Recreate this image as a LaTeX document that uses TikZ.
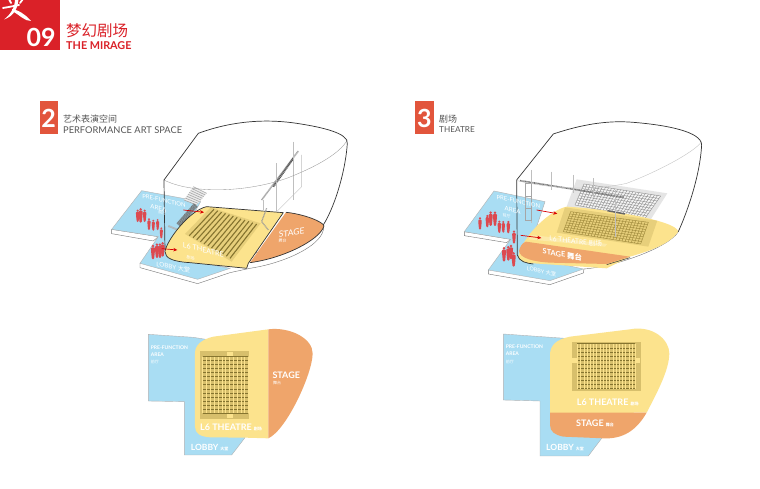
\documentclass[tikz,border=0pt]{standalone}
\usepackage{fontspec}
\setmainfont{Lato}
\newfontfamily\cjk{Noto Sans CJK SC}
\usetikzlibrary{calc,arrows.meta}
\definecolor{hdred}{HTML}{DA2128}
\definecolor{numred}{HTML}{E2553C}
\definecolor{bluezone}{HTML}{A9DDF3}
\definecolor{yellowzone}{HTML}{FCE38D}
\definecolor{orangezone}{HTML}{EFA56B}
\definecolor{seatdark}{HTML}{A08A3C}
\definecolor{seatrow}{HTML}{85742F}
\definecolor{peoplered}{HTML}{DC4A50}
\definecolor{textgray}{HTML}{555555}
\tikzset{
  zoneblue/.style={fill=bluezone,draw=black!30,line width=.4pt},
  zoneyellow/.style={fill=yellowzone,draw=none},
  zoneorange/.style={fill=orangezone,draw=none},
  slab/.style={fill=white,draw=black!55,line width=.4pt},
  shellline/.style={draw=black!80,line width=.7pt,line join=round},
  thinline/.style={draw=black!25,line width=.35pt},
  labelw/.style={text=white,font=\fontsize{6.2}{7}\selectfont,inner sep=0pt,align=center},
  labelws/.style={text=white,font=\cjk\fontsize{4}{5}\selectfont,inner sep=0pt},
  planb/.style={text=white,anchor=west,inner sep=0pt,font=\bfseries\fontsize{9}{10}\selectfont},
  plans/.style={text=white,anchor=west,inner sep=0pt,font=\bfseries\fontsize{5}{6}\selectfont},
  flowarrow/.style={draw=red!85!black,line width=.7pt,-{Stealth[length=4pt,width=3.5pt]}},
  titlecn/.style={text=textgray,font=\cjk\fontsize{9}{10}\selectfont,anchor=west,inner sep=0pt},
  titleen/.style={text=textgray,font=\fontsize{9.3}{10}\selectfont,anchor=west,inner sep=0pt},
  titleent/.style={text=textgray,font=\fontsize{8.2}{10}\selectfont,anchor=west,inner sep=0pt},
  hdstroke/.style={draw=white,line cap=round,line join=round},
}
\newcommand\seatgrid[8]{%
  \foreach \ii in {0,...,#5}{
    \pgfmathsetmacro\tt{\ii/#5}
    \draw[draw=#7,line width=#8] ($(#1)!\tt!(#2)$) -- ($(#4)!\tt!(#3)$);
  }
  \foreach \ii in {0,...,#6}{
    \pgfmathsetmacro\tt{\ii/#6}
    \draw[draw=#7,line width=#8] ($(#1)!\tt!(#4)$) -- ($(#2)!\tt!(#3)$);
  }
}
\newcommand\rowgrid[7]{%
  \foreach \ii in {0,...,#5}{
    \pgfmathsetmacro\tt{\ii/#5}
    \draw[draw=#6,#7] ($(#1)!\tt!(#4)$) -- ($(#2)!\tt!(#3)$);
  }
}
\newcommand\person[3]{%
  \fill[peoplered] (#1,#2) circle (4*#3);
  \fill[peoplered,rounded corners=1pt] ({#1-6*#3},{#2+4*#3}) -- ({#1+6*#3},{#2+4*#3}) -- ({#1+5*#3},{#2+20*#3}) -- ({#1+3*#3},{#2+38*#3}) -- ({#1-3*#3},{#2+38*#3}) -- ({#1-5*#3},{#2+20*#3}) -- cycle;
}
\begin{document}
\begin{tikzpicture}[x=1pt,y=-1pt]
\useasboundingbox (0,0) rectangle (760,489);
\fill[white] (0,0) rectangle (760,489);

% header
\fill[hdred] (0,0) rectangle (60,50);
\draw[hdstroke,line width=1.8pt] (9,-1) -- (11,3);
\draw[hdstroke,line width=1.8pt] (23,-1) -- (20,3);
\draw[hdstroke,line width=1.8pt] (3,8) .. controls (9,7) and (14,6) .. (19,5);
\fill[white] (15,-1) -- (18.5,-1) .. controls (18,8) and (14,16) .. (4,19.5) .. controls (10,15) and (15,8) .. (15,-1) -- cycle;
\fill[white] (12,9) .. controls (18,10) and (25,14) .. (31,21) .. controls (24,21) and (20,15) .. (12,11) -- cycle;
\node[inner sep=0pt,text=white,font=\bfseries\fontsize{25}{25}\selectfont] (num09) at (41,37.5) {09};
\node[inner sep=0pt,text=hdred,anchor=west,font=\cjk\fontsize{15.5}{16}\selectfont] (hdcn) at (66,31) {梦幻剧场};
\node[inner sep=0pt,text=hdred,anchor=west,font=\bfseries\fontsize{10.8}{11}\selectfont] (hden) at (66,45.5) {THE MIRAGE};

% section titles
\fill[numred] (39.5,101) rectangle (58,134.5);
\node[inner sep=0pt,text=white,font=\bfseries\fontsize{25}{25}\selectfont] (n2) at (48.7,118.5) {2};
\node[titlecn] (t2cn) at (63,119) {艺术表演空间};
\node[titleen] (t2en) at (63,130) {PERFORMANCE ART SPACE};
\fill[numred] (415,101) rectangle (433.7,134.5);
\node[inner sep=0pt,text=white,font=\bfseries\fontsize{25}{25}\selectfont] (n3) at (424.3,118.5) {3};
\node[titlecn] (t3cn) at (439,119) {剧场};
\node[titleent] (t3en) at (439,130) {THEATRE};

% ---------- left isometric
\begin{scope}[shift={(30,90)},scale=.3333]
  \path[slab] (245,418) -- (245,431) -- (370,453) -- (385,440) -- cycle;
  \path[slab] (330,520) -- (330,533) -- (503,581) -- (600,548) -- (660,535) .. controls (760,520) and (870,470) .. (880,420) -- (880,405) -- (650,500) -- cycle;
  \path[zoneblue] (335,302) -- (512,335) -- (420,500) -- (600,535) -- (503,568) -- (330,520) -- (385,440) -- (245,418) -- cycle;
  % back seats
  \coordinate (ua) at (490,290); \coordinate (ub) at (530,310);
  \coordinate (uc) at (500,345); \coordinate (ud) at (462,330);
  \fill[black!8] (ua) -- (ub) -- (uc) -- (ud) -- cycle;
  \rowgrid{ua}{ub}{uc}{ud}{7}{black!35}{line width=.6pt}
  \draw[black!55,line width=5pt,dash pattern=on .6pt off .5pt] (497,345) -- (445,405);
  \draw[black!30,line width=2pt,dash pattern=on .6pt off .5pt] (415,408) -- (440,418);
  % yellow
  \path[zoneyellow] (405,485) .. controls (410,450) and (480,360) .. (530,350) -- (760,368) -- (655,520) -- (650,535) -- (480,518) .. controls (430,515) and (405,505) .. (405,485) -- cycle;
  \path[zoneorange] (768,367) .. controls (820,372) and (880,395) .. (882,408) .. controls (870,450) and (760,505) .. (660,518) -- cycle;
  % seats
  \coordinate (sa) at (465,432); \coordinate (sb) at (542,352);
  \coordinate (sc) at (692,400); \coordinate (sd) at (605,515);
  \fill[seatdark,opacity=.22] (sa) -- (sb) -- (sc) -- (sd) -- cycle;
  \coordinate (sa2) at (478,437); \coordinate (sb2) at (552,358);
  \coordinate (sc2) at (680,402); \coordinate (sd2) at (600,505);
  \rowgrid{sa2}{sb2}{sc2}{sd2}{11}{seatrow}{line width=1.15pt,dash pattern=on .55pt off .3pt}
  % outlines
  \draw[shellline] (405,485) .. controls (410,450) and (480,360) .. (530,350) -- (760,368);
  \draw[shellline] (405,485) .. controls (405,505) and (430,515) .. (480,518) -- (650,535) -- (655,520);
  \draw[shellline] (768,367) .. controls (820,372) and (880,395) .. (882,408) .. controls (870,450) and (760,505) .. (660,518);
  \draw[shellline] (760,368) -- (655,520);
  % rigging
  \coordinate (ra) at (695,330); \coordinate (rb) at (805,183);
  \draw[black!35,line width=1.6pt,dash pattern=on .8pt off .5pt] (ra) -- (rb);
  \coordinate (rc) at (730,290); \coordinate (rd) at (790,205);
  \draw[black!65,line width=2pt,dash pattern=on 1pt off .6pt] (rc) -- (rd);
  \draw[thinline] (700,330) -- (700,360); \draw[thinline] (740,220) -- (740,365);
  \draw[thinline] (790,155) -- (790,330); \draw[thinline] (815,195) -- (815,290) -- (740,365);
  \draw[black!40,line width=1.2pt,dash pattern=on 1pt off .6pt] (710,355) -- (695,395) -- (715,420);
  % shell
  \draw[thinline,draw=black!40] (402,270) .. controls (480,310) and (640,310) .. (770,265) .. controls (860,230) and (930,190) .. (952,150);
  \draw[shellline] (405,480) -- (402,270) -- (505,130) .. controls (600,95) and (700,85) .. (800,100) .. controls (880,112) and (955,130) .. (952,160) .. controls (948,230) and (920,340) .. (880,405);
  % labels
  \node[labelw,yslant=-.22,font=\fontsize{5.9}{7}\selectfont] (l1) at (402,332) {PRE-FUNCTION};
  \node[labelw,yslant=-.22] (l2) at (385,354) {AREA};
  \node[labelws,yslant=-.22] (l3) at (397,370) {前厅};
  \node[labelw,yslant=-.24,font=\fontsize{7.2}{8}\selectfont] (l4) at (520,480) {L6 THEATRE};
  \node[labelws,yslant=-.24] (l5) at (482,505) {剧场};
  \node[labelw,yslant=-.2] (l6) at (430,532) {LOBBY \cjk 大堂};
  \node[labelw,yslant=.17,font=\fontsize{8.5}{9}\selectfont] (l7) at (785,428) {STAGE};
  \node[labelws,yslant=.17] (l8) at (758,452) {舞台};
  % people
  \person{323}{362}{.9}\person{332}{358}{1.05}\person{344}{362}{.9}
  \person{357}{388}{.85}\person{370}{392}{.8}\person{383}{390}{.8}\person{394}{415}{.8}
  \person{369}{468}{1.05}\person{381}{464}{1.05}\person{390}{464}{1.05}\person{398}{460}{1.05}
  % arrows
  \coordinate (aas) at (460,360); \coordinate (aae) at (522,367);
  \coordinate (abs) at (395,476); \coordinate (abe) at (442,480);
  \draw[flowarrow] (aas) -- (aae);
  \draw[flowarrow] (abs) -- (abe);
\end{scope}

% ---------- right isometric
\begin{scope}[shift={(400,90)},scale=.3333]
  \path[slab] (193,425) -- (193,437) -- (320,458) -- (332,448) -- cycle;
  \path[slab] (265,540) -- (265,552) -- (450,584) -- (550,549) -- (552,537) .. controls (650,530) and (810,470) .. (835,425) -- (690,495) -- cycle;
  \path[zoneblue] (282,303) -- (435,335) -- (380,500) -- (550,537) -- (450,572) -- (265,540) -- (332,448) -- (193,425) -- cycle;
  % upper gray seats
  \coordinate (toa) at (530,268); \coordinate (tob) at (802,310);
  \coordinate (toc) at (750,392); \coordinate (tod) at (500,350);
  \fill[black!10] (toa) -- (tob) -- (toc) -- (tod) -- cycle;
  \coordinate (ta) at (552,282); \coordinate (tb) at (782,318);
  \coordinate (tc) at (735,385); \coordinate (td) at (525,345);
  \fill[white,opacity=.6] (ta) -- (tb) -- (tc) -- (td) -- cycle;
  \seatgrid{ta}{tb}{tc}{td}{25}{9}{black!45}{.4pt}
  % yellow
  \path[zoneyellow] (355,500) .. controls (365,440) and (450,360) .. (500,350) .. controls (600,355) and (830,390) .. (835,425) .. controls (810,460) and (760,480) .. (690,500) -- (620,535) -- (400,520) .. controls (370,520) and (355,510) .. (355,500) -- cycle;
  % lower seats
  \coordinate (woa) at (495,352); \coordinate (wob) at (772,392);
  \coordinate (woc) at (745,470); \coordinate (wod) at (470,428);
  \fill[seatdark,opacity=.22] (woa) -- (wob) -- (woc) -- (wod) -- cycle;
  \coordinate (wa) at (512,365); \coordinate (wb) at (745,397);
  \coordinate (wc) at (722,462); \coordinate (wd) at (490,425);
  \seatgrid{wa}{wb}{wc}{wd}{25}{9}{seatdark}{.45pt}
  \fill[white,opacity=.25] (395,435) -- (622,462) -- (615,470) -- (385,448) -- cycle;
  % orange stage
  \path[zoneorange] (357,483) .. controls (360,470) and (365,460) .. (378,455) -- (690,500) -- (620,522) -- (450,518) .. controls (400,515) and (360,505) .. (357,483) -- cycle;
  % rigging
  \coordinate (xa) at (360,272); \coordinate (xb) at (672,322);
  \draw[black!55,line width=1.6pt,dash pattern=on .8pt off .5pt] (xa) -- (xb);
  \coordinate (xc) at (622,362); \coordinate (xd) at (675,372);
  \draw[black!60,line width=1.5pt] (xc) -- (xd);
  \foreach \xx/\yy/\zz in {395/240/400,455/245/300,520/255/310,580/265/320,645/300/440}{
    \draw[thinline] (\xx,\yy) -- (\xx,\zz);
  }
  \draw[black!35,line width=.4pt] (375,280) rectangle (395,390);
  \draw[black!35,line width=.4pt] (375,320) -- (395,320) (375,355) -- (395,355);
  % shell
  \draw[thinline] (352,272) .. controls (470,300) and (590,300) .. (680,280) .. controls (760,250) and (880,190) .. (905,155);
  \draw[shellline] (352,495) -- (350,270) -- (460,132) .. controls (540,105) and (620,90) .. (700,97) .. controls (800,105) and (905,125) .. (905,165) .. controls (900,260) and (860,370) .. (835,425);
  \draw[shellline] (352,495) .. controls (357,515) and (380,520) .. (400,522);
  \draw[black!80,line width=.5pt] (690,503) -- (620,524);
  % labels
  \node[labelw,yslant=-.22,font=\fontsize{5.9}{7}\selectfont] (r1) at (355,335) {PRE-FUNCTION};
  \node[labelw,yslant=-.22] (r2) at (338,361) {AREA};
  \node[labelws,yslant=-.22] (r3) at (320,378) {前厅};
  \node[labelw,yslant=-.11,font=\fontsize{6.6}{7}\selectfont] (r4) at (527,454) {L6 THEATRE \cjk 剧场};
  \node[labelw,yslant=-.17,font=\bfseries\fontsize{7.4}{8}\selectfont] (r5) at (487,493) {STAGE \cjk 舞台};
  \node[labelw,yslant=-.2,font=\fontsize{5.4}{6}\selectfont] (r6) at (425,544) {LOBBY \cjk 大堂};
  % people
  \person{240}{385}{.9}\person{262}{378}{.9}\person{272}{368}{1.05}\person{285}{368}{1.05}
  \person{298}{395}{.9}\person{310}{396}{.85}\person{325}{396}{.9}\person{342}{425}{.95}
  \person{312}{475}{1.05}\person{325}{472}{1.05}\person{333}{468}{1.05}\person{341}{490}{1.05}
  % arrows
  \coordinate (cas) at (410,360); \coordinate (cae) at (472,371);
  \coordinate (cbs) at (362,436); \coordinate (cbe) at (424,444);
  \draw[flowarrow] (cas) -- (cae);
  \draw[flowarrow] (cbs) -- (cbe);
\end{scope}

% ---------- left plan
\begin{scope}[shift={(130,320)},scale=.3333]
  \path[zoneblue] (55,43) -- (190,52) -- (240,60) -- (345,353) -- (305,405) -- (163,405) -- (163,245) -- (55,243) -- cycle;
  \path[zoneyellow] (415,28) -- (415,355) -- (345,353) -- (240,352) .. controls (210,350) and (195,340) .. (195,320) -- (195,100) .. controls (195,75) and (215,58) .. (250,50) -- cycle;
  \path[zoneorange] (415,28) .. controls (480,20) and (548,55) .. (548,100) .. controls (548,160) and (470,330) .. (415,355) -- cycle;
  \coordinate (pa) at (210,92); \coordinate (pb) at (357,92);
  \coordinate (pc) at (357,297); \coordinate (pd) at (210,297);
  \fill[seatdark,opacity=.4] (pa) -- (pb) -- (pc) -- (pd) -- cycle;
  \coordinate (pa2) at (218,110); \coordinate (pb2) at (355,110);
  \coordinate (pc2) at (355,280); \coordinate (pd2) at (218,280);
  \rowgrid{pa2}{pb2}{pc2}{pd2}{14}{seatrow}{line width=1pt}
  \rowgrid{pa2}{pd2}{pc2}{pb2}{12}{yellowzone}{line width=.35pt}
  \fill[yellowzone] (292,95) rectangle (308,108);
  \fill[yellowzone] (292,283) rectangle (308,295);
  \node[plans] (a1) at (62,83) {PRE-FUNCTION};
  \node[plans] (a2) at (62,103) {AREA};
  \node[labelws,anchor=west] (a3) at (62,126) {前厅};
  \node[planb] (a4) at (210,321) {L6 THEATRE \cjk\fontsize{4}{5}\selectfont 剧场};
  \node[planb] (a5) at (427,165) {STAGE};
  \node[labelws,anchor=west] (a6) at (429,190) {舞台};
  \node[planb,font=\bfseries\fontsize{8.5}{10}\selectfont] (a7) at (182,383) {LOBBY \cjk\fontsize{4}{5}\selectfont 大堂};
\end{scope}

% ---------- right plan
\begin{scope}[shift={(490,320)},scale=.3333]
  \path[zoneblue] (40,42) -- (225,55) -- (335,355) -- (295,408) -- (150,408) -- (150,243) -- (40,240) -- cycle;
  \path[zoneyellow] (180,280) -- (180,105) .. controls (180,75) and (200,58) .. (240,50) -- (420,28) .. controls (490,15) and (538,60) .. (538,100) .. controls (538,150) and (500,220) .. (470,278) -- cycle;
  \path[zoneorange] (180,278) -- (470,278) .. controls (440,330) and (400,358) .. (340,355) -- (220,350) .. controls (195,345) and (180,335) .. (180,315) -- cycle;
  \coordinate (qa) at (245,65); \coordinate (qb) at (452,65);
  \coordinate (qc) at (452,213); \coordinate (qd) at (245,213);
  \fill[seatdark,opacity=.4] (qa) -- (qb) -- (qc) -- (qd) -- cycle;
  \coordinate (qa2) at (262,72); \coordinate (qb2) at (436,72);
  \coordinate (qc2) at (436,206); \coordinate (qd2) at (262,206);
  \rowgrid{qa2}{qb2}{qc2}{qd2}{11}{seatrow}{line width=1pt}
  \rowgrid{qa2}{qd2}{qc2}{qb2}{18}{yellowzone}{line width=.35pt}
  \fill[yellowzone] (247,113) rectangle (260,130);
  \fill[yellowzone] (437,113) rectangle (450,130);
  \node[plans] (b1) at (47,81) {PRE-FUNCTION};
  \node[plans] (b2) at (47,102) {AREA};
  \node[labelws,anchor=west] (b3) at (47,126) {前厅};
  \node[planb] (b4) at (260,248) {L6 THEATRE \cjk\fontsize{4}{5}\selectfont 剧场};
  \node[planb] (b5) at (258,310) {STAGE \cjk\fontsize{4}{5}\selectfont 舞台};
  \node[planb,font=\bfseries\fontsize{8.5}{10}\selectfont] (b6) at (168,384) {LOBBY \cjk\fontsize{4}{5}\selectfont 大堂};
\end{scope}
\end{tikzpicture}
\end{document}
